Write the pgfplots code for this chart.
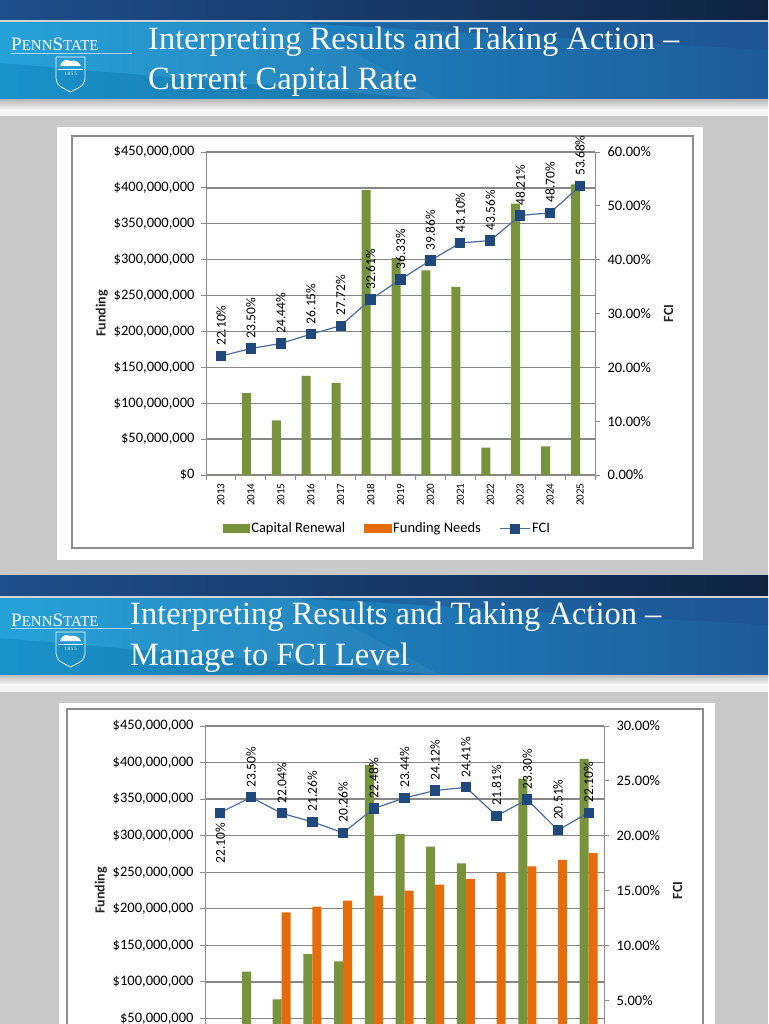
\documentclass[border=0pt]{standalone}
\usepackage{pgfplots}
\pgfplotsset{compat=1.18}
\usepackage{pgfplotstable}
\usepackage{fontspec}
\setmainfont{Carlito}
\newfontfamily\titlefont{Liberation Serif}

\definecolor{slidebg}{HTML}{C9C9C9}
\definecolor{navyL}{HTML}{1F4E8C}
\definecolor{navyR}{HTML}{0F2341}
\definecolor{bannerL}{HTML}{1B9DD6}
\definecolor{bannerR}{HTML}{1E5A9A}
\definecolor{stripgray}{HTML}{BDBDBD}
\definecolor{crgreen}{HTML}{77933C}
\definecolor{fnorange}{HTML}{E46C0A}
\definecolor{fciline}{HTML}{4A6A9E}
\definecolor{fcimark}{HTML}{1F497D}
\definecolor{gridgray}{HTML}{878787}
\definecolor{framegray}{HTML}{8C8C8C}

% Capital renewal and funding needs, in millions of dollars
\pgfplotstableread{
idx year renewal needs
0  2013   0   0
1  2014 114   0
2  2015  76   0
3  2016 138   0
4  2017 128   0
5  2018 397   0
6  2019 302   0
7  2020 285   0
8  2021 262   0
9  2022  38   0
10 2023 378   0
11 2024  40   0
12 2025 405   0
}\currentrate

\pgfplotstableread{
idx year renewal needs
0  2013   0   0
1  2014 114   0
2  2015  76 195
3  2016 138 203
4  2017 128 211
5  2018 397 218
6  2019 302 225
7  2020 285 233
8  2021 262 241
9  2022  38 249
10 2023 378 258
11 2024  40 267
12 2025 405 276
}\managefci

% FCI in percent
\pgfplotstableread{
idx fci
0  22.10
1  23.50
2  24.44
3  26.15
4  27.72
5  32.61
6  36.33
7  39.86
8  43.10
9  43.56
10 48.21
11 48.70
12 53.68
}\fcicurrent

\pgfplotstableread{
idx fci
0  22.10
1  23.50
2  22.04
3  21.26
4  20.26
5  22.48
6  23.44
7  24.12
8  24.41
9  21.81
10 23.30
11 20.51
12 22.10
}\fcimanage

\pgfplotsset{
  /pgf/number format/assume math mode=true,
  chartbase/.style={
    scale only axis,
    xmin=-0.5, xmax=12.5,
    axis line style={-, draw=framegray, line width=1pt},
    tick align=outside,
    major tick length=5pt, minor tick length=5pt,
    tick style={draw=framegray, line width=1pt},
    tick label style={font=\fontsize{14.5}{16}\selectfont, text=black},
    label style={font=\fontsize{14}{16}\selectfont\bfseries, text=black!85},
  },
  fundaxis/.style={
    chartbase,
    ymin=0, ymax=450,
    ybar=0pt, bar width=9pt,
    axis x line*=bottom, axis y line*=left,
    xtick={0,...,12},
    xticklabels={2013,2014,2015,2016,2017,2018,2019,2020,2021,2022,2023,2024,2025},
    xticklabel style={rotate=90, anchor=east, font=\fontsize{11}{12}\selectfont},
    major x tick style=transparent,
    minor xtick={-0.5,0.5,...,12.5},
    ytick={0,50,...,450},
    yticklabels={{\$0},{\$50,000,000},{\$100,000,000},{\$150,000,000},{\$200,000,000},{\$250,000,000},{\$300,000,000},{\$350,000,000},{\$400,000,000},{\$450,000,000}},
    yticklabel style={xshift=-3pt},
    ymajorgrids,
    grid style={draw=gridgray, line width=1.3pt},
    ylabel={Funding},
    ylabel shift=-1pt,
    legend style={draw=none, fill=none, legend columns=-1,
      font=\fontsize{14.5}{16}\selectfont,
      nodes={inner xsep=1.5pt},
      /tikz/every even column/.append style={column sep=17pt}},
    legend cell align=left,
  },
  fciaxis/.style={
    chartbase,
    ymin=0,
    axis x line=none, axis y line*=right,
    yticklabel={\pgfmathprintnumber[fixed,fixed zerofill,precision=2]{\tick}\%},
    yticklabel style={xshift=4pt},
    ylabel={FCI},
    ylabel shift=6pt,
    clip=false,
  },
  fciplot/.style={
    fciline, line width=1.2pt,
    mark=square*, mark size=4.5pt,
    mark options={fill=fcimark, draw=fcimark, solid},
  },
  % value labels, rotated; #1 = west (above the point) or east (below)
  fcilabels/.style={
    draw=none, mark=none,
    point meta=y,
    nodes near coords={\pgfmathprintnumber[fixed,fixed zerofill,precision=2]{\pgfplotspointmeta}\%},
    nodes near coords style={anchor=#1, rotate=90, inner xsep=10pt, inner ysep=0pt,
      font=\fontsize{13.5}{14}\selectfont, text=black},
  },
  greenkey/.style={legend image code/.code={\fill[crgreen] (0pt,-4.5pt) rectangle (27pt,4.5pt);}},
  orangekey/.style={legend image code/.code={\fill[fnorange] (0pt,-4.5pt) rectangle (28pt,4.5pt);}},
  fcikey/.style={legend image code/.code={%
    \draw[fciline, line width=1.2pt] (0pt,0pt) -- (30pt,0pt);
    \draw[fciline, mark=square*, mark size=4.5pt, mark options={fill=fcimark, draw=fcimark}]
      plot coordinates {(15pt,0pt)};}},
}

% Slide header: #1 top offset, #2 title x, #3 first line, #4 second line
\newcommand{\slidehead}[4]{%
\begin{scope}[x=1pt, y=-1pt, yshift=-#1pt]
  \shade[left color=navyL, right color=navyR] (0,0) rectangle (768,20.5);
  \fill[slidebg!80!white] (0,20.5) rectangle (768,23);
  \shade[left color=bannerL, right color=bannerR] (0,23) rectangle (768,100);
  \fill[black, opacity=0.06] (0,63) -- (440,100) -- (0,100) -- cycle;
  \fill[white, opacity=0.05] (0,23) -- (300,23) -- (440,100) -- (0,63) -- cycle;
  \fill[navyL, opacity=0.45] (300,23) -- (768,23) -- (768,50) -- cycle;
  \shade[top color=stripgray, bottom color=white] (0,100) rectangle (768,111);
  \fill[white!96!black] (0,111) rectangle (768,116.5);
  % university mark
  \node[anchor=base west, inner sep=0, text=white, font=\titlefont]
    at (11,51) {\fontsize{19}{19}\selectfont P\fontsize{15}{15}\selectfont ENN\fontsize{19}{19}\selectfont S\fontsize{15}{15}\selectfont TATE};
  \draw[white, opacity=0.6, line width=0.6pt] (11,53.5) -- (132,53.5);
  \draw[white, line width=0.7pt] (56,57) -- (85,57) -- (85,79) .. controls (85,86) and (76,89) .. (70.5,92)
    .. controls (65,89) and (56,86) .. (56,79) -- cycle;
  \fill[white] (60,66) .. controls (62,60) and (66,59) .. (70,61) .. controls (74,60) and (79,61) .. (81,66) -- cycle;
  \draw[white, line width=0.5pt] (58,69) -- (83,69);
  \node[text=white, inner sep=0, font=\titlefont\fontsize{5}{5}\selectfont] at (70.5,74) {1\,8\,5\,5};
  % title
  \node[anchor=base west, inner sep=0, text=white, font=\titlefont\fontsize{32.5}{36}\selectfont] at (#2,49.5) {#3};
  \node[anchor=base west, inner sep=0, text=white, font=\titlefont\fontsize{32.5}{36}\selectfont] at (#2,90) {#4};
\end{scope}}

\begin{document}
\begin{tikzpicture}
\useasboundingbox (0,0) rectangle (768pt,-1024pt);
\clip (0,0) rectangle (768pt,-1024pt);
\fill[slidebg] (0,0) rectangle (768pt,-1024pt);

\slidehead{0}{148}{Interpreting Results and Taking Action –}{Current Capital Rate}
\slidehead{575}{130}{Interpreting Results and Taking Action –}{Manage to FCI Level}

\begin{scope}[x=1pt, y=-1pt]
  \fill[white] (57,127) rectangle (703,560);
  \draw[framegray, line width=1.2pt] (72,136) rectangle (693,548);
  \fill[white] (59,703) rectangle (715,1030);
  \draw[framegray, line width=1.2pt] (67,709) rectangle (703,1040);
\end{scope}

% ---------- Current capital rate ----------
\begin{axis}[fundaxis, at={(206pt,-475pt)}, anchor=south west, width=389pt, height=323pt,
  legend style={at={(axis description cs:0.035,-0.165)}, anchor=west}]
  \addplot[fill=crgreen, draw=none, greenkey] table[x=idx, y=renewal]{\currentrate};
  \addlegendentry{Capital Renewal}
  \addplot[fill=fnorange, draw=none, orangekey] table[x=idx, y=needs]{\currentrate};
  \addlegendentry{Funding Needs}
  \addlegendimage{fcikey}
  \addlegendentry{FCI}
\end{axis}
\begin{axis}[fciaxis, at={(206pt,-475pt)}, anchor=south west, width=389pt, height=323pt,
  ymax=60, ytick={0,10,...,60}]
  \addplot[fciplot] table[x=idx, y=fci]{\fcicurrent};
  \addplot[fcilabels=west] table[x=idx, y=fci]{\fcicurrent};
\end{axis}

% ---------- Manage to FCI level (lower part runs past the page) ----------
\begin{axis}[fundaxis, at={(205pt,-1055pt)}, anchor=south west, width=399pt, height=329pt,
  xticklabels={}, ytick={50,100,...,450},
  yticklabels={{\$50,000,000},{\$100,000,000},{\$150,000,000},{\$200,000,000},{\$250,000,000},{\$300,000,000},{\$350,000,000},{\$400,000,000},{\$450,000,000}}]
  \addplot[fill=crgreen, draw=none] table[x=idx, y=renewal]{\managefci};
  \addplot[fill=fnorange, draw=none] table[x=idx, y=needs]{\managefci};
\end{axis}
\begin{axis}[fciaxis, at={(205pt,-1055pt)}, anchor=south west, width=399pt, height=329pt,
  ymax=30, ytick={5,10,...,30}]
  \addplot[fciplot] table[x=idx, y=fci]{\fcimanage};
  \addplot[fcilabels=east, skip coords between index={1}{13}] table[x=idx, y=fci]{\fcimanage};
  \addplot[fcilabels=west, skip coords between index={0}{1}] table[x=idx, y=fci]{\fcimanage};
\end{axis}
\end{tikzpicture}
\end{document}
